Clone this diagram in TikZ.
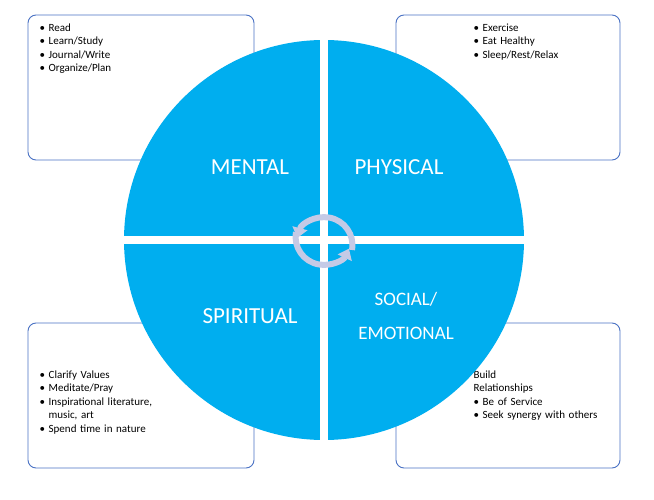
\documentclass[tikz,border=0pt]{standalone}
\usepackage{fontspec}
\setmainfont{Carlito}
\usetikzlibrary{arrows.meta}
\definecolor{cblue}{HTML}{00AEEF}
\definecolor{bord}{HTML}{4A72C4}
\definecolor{lav}{HTML}{C5CAE6}
\begin{document}
\begin{tikzpicture}[x=1pt,y=-1pt,
 box/.style={draw=bord,line width=0.9pt,rounded corners=8pt,fill=white},
 lst/.style={anchor=north west,align=left,font=\fontsize{11}{13.5}\selectfont,text width=150pt},
 big/.style={text=white,font=\fontsize{23}{26}\selectfont},
 arr/.style={draw=white,line width=9pt},
 arri/.style={draw=lav,line width=6pt,-{Triangle[width=15pt,length=10pt]}}]
\useasboundingbox (0,0) rectangle (654,500);
\draw[box] (28,15) rectangle (254,160);
\draw[box] (396,15) rectangle (620,160);
\draw[box] (28,323) rectangle (254,468);
\draw[box] (396,323) rectangle (620,468);
\node[lst] (t1) at (36,20) {\textbullet\ Read\\\textbullet\ Learn/Study\\\textbullet\ Journal/Write\\\textbullet\ Organize/Plan};
\node[lst] (t2) at (470,20) {\textbullet\ Exercise\\\textbullet\ Eat Healthy\\\textbullet\ Sleep/Rest/Relax};
\node[lst] (t3) at (36,367) {\textbullet\ Clarify Values\\\textbullet\ Meditate/Pray\\\textbullet\ Inspirational literature,\\\phantom{\textbullet\ }music, art\\\textbullet\ Spend time in nature};
\node[lst] (t4) at (470,367) {Build\\Relationships\\\textbullet\ Be of Service\\\textbullet\ Seek synergy with others};
\fill[cblue] (324,240) circle (200);
\fill[white] (320,30) rectangle (328,450);
\fill[white] (114,236) rectangle (534,244);
\node[big] (m) at (250,167) {MENTAL};
\node[big] (p) at (399,167) {PHYSICAL};
\node[big] (s) at (250,316) {SPIRITUAL};
\node[big,align=center,font=\fontsize{19}{34}\selectfont] (e) at (406,316) {SOCIAL/\\EMOTIONAL};
\coordinate (c) at (324,238);
\draw[lav,line width=6pt,-{Triangle[width=15pt,length=10pt]}] (296,232) arc[start angle=190,end angle=25,radius=28];
\draw[lav,line width=6pt,-{Triangle[width=15pt,length=10pt]}] (352,250) arc[start angle=10,end angle=-165,radius=28];
\end{tikzpicture}
\end{document}
